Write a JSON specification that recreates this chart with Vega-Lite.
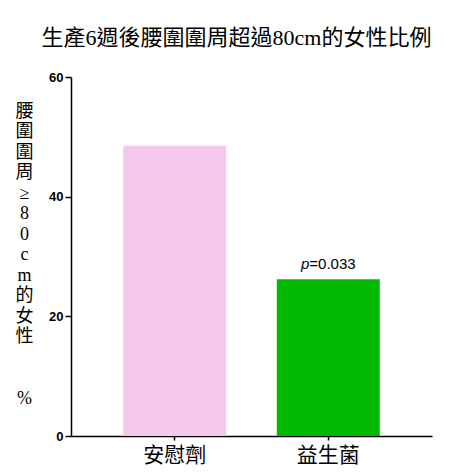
{
  "$schema": "https://vega.github.io/schema/vega-lite/v6.json",
  "width": 361,
  "height": 359,
  "autosize": "none",
  "padding": {"left": 71, "top": 77, "right": 42, "bottom": 39},
  "background": "white",
  "title": {
    "text": "生產6週後腰圍圍周超過80cm的女性比例",
    "font": "Liberation Serif, Noto Sans CJK TC",
    "fontSize": 22,
    "fontWeight": "normal",
    "color": "black",
    "anchor": "middle",
    "dx": -15,
    "offset": 21
  },
  "data": {
    "values": [
      {"group": "安慰劑", "value": 48.5, "p": "", "rest": ""},
      {"group": "益生菌", "value": 26.2, "p": "p", "rest": "=0.033"}
    ]
  },
  "encoding": {
    "x": {
      "field": "group",
      "type": "nominal",
      "sort": null,
      "scale": {"paddingInner": 0.33, "paddingOuter": 0.34},
      "axis": {
        "title": null,
        "labelAngle": 0,
        "labelFont": "Liberation Serif, Noto Sans CJK TC",
        "labelFontSize": 21,
        "labelColor": "black",
        "labelPadding": 4,
        "tickSize": 4,
        "tickColor": "black",
        "tickWidth": 1.5,
        "domainColor": "black",
        "domainWidth": 1.5
      }
    },
    "y": {
      "field": "value",
      "type": "quantitative",
      "scale": {"domain": [0, 60]},
      "axis": {
        "values": [0, 20, 40, 60],
        "grid": false,
        "title": ["腰", "圍", "圍", "周", "≥", "8", "0", "c", "m", "的", "女", "性", "\u200b", "\u200b", "%"],
        "titleAngle": 0,
        "titleX": -47,
        "titleY": 25,
        "titleAlign": "center",
        "titleBaseline": "top",
        "titleFont": "Liberation Serif, Noto Sans CJK TC",
        "titleFontSize": 18,
        "titleFontWeight": "normal",
        "titleLineHeight": 20.5,
        "titleColor": "black",
        "labelFont": "Liberation Sans",
        "labelFontWeight": "bold",
        "labelFontSize": 13,
        "labelColor": "black",
        "labelPadding": 2,
        "tickSize": 6,
        "tickColor": "black",
        "tickWidth": 1.5,
        "domainColor": "black",
        "domainWidth": 1.5
      }
    }
  },
  "layer": [
    {
      "mark": {"type": "bar"},
      "encoding": {
        "color": {
          "field": "group",
          "type": "nominal",
          "scale": {"domain": ["安慰劑", "益生菌"], "range": ["#f7c8ee", "#00b900"]},
          "legend": null
        }
      }
    },
    {
      "transform": [{"filter": "datum.p != ''"}],
      "mark": {"type": "text", "align": "right", "baseline": "alphabetic", "dx": -19, "dy": -10, "fontStyle": "italic", "fontSize": 15, "font": "Liberation Sans", "color": "black"},
      "encoding": {"text": {"field": "p"}}
    },
    {
      "transform": [{"filter": "datum.p != ''"}],
      "mark": {"type": "text", "align": "left", "baseline": "alphabetic", "dx": -19, "dy": -10, "fontSize": 15, "font": "Liberation Sans", "color": "black"},
      "encoding": {"text": {"field": "rest"}}
    }
  ],
  "config": {
    "view": {"stroke": null}
  }
}
